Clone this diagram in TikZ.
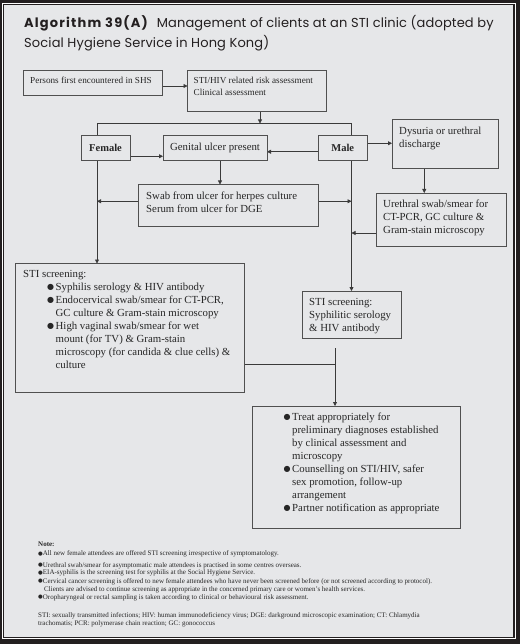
\documentclass[tikz,border=0pt]{standalone}
\usepackage{fontspec}
\setmainfont{Liberation Serif}
\newfontfamily\titlefont{Poppins}[LetterSpace=1]
\newfontfamily\titlefontB{Poppins}[LetterSpace=9]
\newfontfamily\dejavu{DejaVu Sans}
\usetikzlibrary{arrows.meta,calc}
\definecolor{bggray}{HTML}{E6E7E9}
\definecolor{framec}{HTML}{231F20}
\definecolor{linec}{HTML}{3A3A3A}
\definecolor{boxc}{HTML}{505050}
\definecolor{txtc}{HTML}{262626}
\pgfdeclarelayer{frame}
\pgfdeclarelayer{bg}
\pgfsetlayers{frame,bg,main}
\newcommand\blt{{\dejavu\fontsize{8}{8}\selectfont\raisebox{0.9pt}{●}}}
\newcommand\nblt{{\dejavu\fontsize{5.4}{5.4}\selectfont\raisebox{0.4pt}{●}}}
\newcommand\bitem{\makebox[8.5pt][l]{\blt}}
\newcommand\bcont{\hspace*{8.5pt}}
\newcommand\tst{\rule{0pt}{8pt}}
\newcommand\mkbox[7][]{\node[box,minimum width={#5-#3},minimum height={#6-#4},#1] (#2) at (#3,#4) {#7};}
\tikzset{
  box/.style={draw=boxc, line width=0.9pt, fill=bggray, rectangle, inner sep=0pt, outer sep=0pt, anchor=north west, text=txtc, font=\fontsize{10.8}{13}\selectfont},
  txt/.style={inner sep=0pt, anchor=north west, align=left, text=txtc, font=\fontsize{10.8}{13}\selectfont},
  smalltxt/.style={txt, font=\fontsize{9.2}{12}\selectfont},
  notetxt/.style={inner sep=0pt, anchor=north west, align=left, text=txtc, font=\fontsize{7}{8.2}\selectfont},
  ttl/.style={inner sep=0pt, anchor=base west, text=framec, font=\titlefont\fontsize{13}{20}\selectfont},
  conn/.style={draw=linec, line width=0.8pt},
  arr/.style={conn, -{Triangle[length=4pt,width=4pt]}},
}
\begin{document}
\begin{tikzpicture}[x=1pt,y=-1pt]
\useasboundingbox (0,0) rectangle (520,644);
\begin{pgfonlayer}{frame}
  \fill[framec] (0,0) rectangle (520,644);
  \fill[white] (2,3.3) rectangle (515.5,639.3);
  \fill[framec] (3,4.3) rectangle (514.5,638.3);
  \fill[bggray] (4,5.3) rectangle (513.3,637.3);
\end{pgfonlayer}

% title
\node[ttl] (title1) at (24,28) {{\titlefontB\bfseries Algorithm 39(A)}\hspace{0.7em}Management of clients at an STI clinic (adopted by};
\node[ttl] (title2) at (24,48) {Social Hygiene Service in Hong Kong)};

% boxes
\mkbox{persons}{23}{70}{162.5}{95}{}
\mkbox{stihiv}{187.5}{70}{326.5}{111}{}
\mkbox[font=\bfseries\fontsize{10.5}{13}\selectfont]{female}{81}{135.5}{130}{160}{Female}
\mkbox{ulcer}{163}{135.5}{267}{160}{Genital ulcer present}
\mkbox[font=\bfseries\fontsize{10.5}{13}\selectfont]{male}{318.5}{135.5}{367}{160}{Male}
\mkbox{dys}{392}{119.5}{498.5}{168}{}
\mkbox{swab}{138.5}{184.5}{318.5}{226}{}
\mkbox{ureth}{376}{193}{506}{246}{}
\mkbox{stiL}{15}{263.5}{244.5}{392.5}{}
\mkbox{stiR}{302}{291}{401}{338}{}
\mkbox{treat}{252.5}{406}{460}{528}{}

% texts in boxes
\node[smalltxt] (persons-t) at (30,75) {\tst Persons first encountered in SHS};
\node[smalltxt] (stihiv-t) at (193.5,75) {\tst STI/HIV related risk assessment\\Clinical assessment};
\node[txt] (dys-t) at (399,126) {\tst Dysuria or urethral\\discharge};
\node[txt] (swab-t) at (146,191) {\tst Swab from ulcer for herpes culture\\Serum from ulcer for DGE};
\node[txt] (ureth-t) at (383,199) {\tst Urethral swab/smear for\\CT-PCR, GC culture \&\\Gram-stain microscopy};
\node[txt] (stiL-t) at (23,269) {\tst STI screening:\\
  \hspace*{24pt}\bitem Syphilis serology \& HIV antibody\\
  \hspace*{24pt}\bitem Endocervical swab/smear for CT-PCR,\\
  \hspace*{24pt}\bcont GC culture \& Gram-stain microscopy\\
  \hspace*{24pt}\bitem High vaginal swab/smear for wet\\
  \hspace*{24pt}\bcont mount (for TV) \& Gram-stain\\
  \hspace*{24pt}\bcont microscopy (for candida \& clue cells) \&\\
  \hspace*{24pt}\bcont culture};
\node[txt] (stiR-t) at (309,297) {\tst STI screening:\\Syphilitic serology\\\& HIV antibody};
\node[txt] (treat-t) at (283.5,412) {\tst\bitem Treat appropriately for\\
  \bcont preliminary diagnoses established\\
  \bcont by clinical assessment and\\
  \bcont microscopy\\
  \bitem Counselling on STI/HIV, safer\\
  \bcont sex promotion, follow-up\\
  \bcont arrangement\\
  \bitem Partner notification as appropriate};

% notes
\node[notetxt] (notes) at (38,541) {\rule{0pt}{5pt}\textbf{Note:}\\[1.3pt]
  \nblt All new female attendees are offered STI screening irrespective of symptomatology.\\[3.3pt]
  \nblt Urethral swab/smear for asymptomatic male attendees is practised in some centres overseas.\\[-0.7pt]
  \nblt EIA-syphilis is the screening test for syphilis at the Social Hygiene Service.\\[0.3pt]
  \nblt Cervical cancer screening is offered to new female attendees who have never been screened before (or not screened according to protocol).\\[0.3pt]
  \hspace*{6pt}Clients are advised to continue screening as appropriate in the concerned primary care or women's health services.\\[-0.7pt]
  \nblt Oropharyngeal or rectal sampling is taken according to clinical or behavioural risk assessment.};
\node[notetxt] (abbr) at (38,612) {\rule{0pt}{5pt}STI: sexually transmitted infections; HIV: human immunodeficiency virus; DGE: darkground microscopic examination; CT: Chlamydia\\
  trachomatis; PCR: polymerase chain reaction; GC: gonococcus};

% connectors
\begin{pgfonlayer}{bg}
  \coordinate (jl) at (97,123.5);
  \coordinate (jr) at (351.5,123.5);
  \coordinate (a1) at ($(persons.east)+(0,3.5)$);
  \draw[arr] (a1) -- (a1 -| stihiv.west);
  \coordinate (a2) at ($(stihiv.south)+(3,0)$);
  \draw[arr] (a2) -- (a2 |- jl);
  \draw[conn] (jl) -- (jr);
  \draw[arr] (jl) -- (jl |- stiL.north);
  \draw[arr] (jr) -- (jr |- stiR.north);
  \coordinate (a3) at ($(female.east)+(0,8.5)$);
  \draw[arr] (a3) -- (a3 -| ulcer.west);
  \coordinate (a4) at ($(male.west)+(0,4)$);
  \draw[arr] (a4) -- (a4 -| ulcer.east);
  \coordinate (a5) at ($(male.east)+(0,-4.5)$);
  \draw[arr] (a5) -- (a5 -| dys.west);
  \coordinate (a6) at ($(ulcer.south)+(5,0)$);
  \draw[arr] (a6) -- (a6 |- swab.north);
  \coordinate (a7) at ($(swab.west)+(0,-4)$);
  \draw[arr] (a7) -- (a7 -| jl);
  \coordinate (a8) at ($(swab.east)+(0,-4)$);
  \draw[arr] (a8) -- (a8 -| jr);
  \coordinate (a9) at ($(dys.south)+(-21,0)$);
  \draw[arr] (a9) -- (a9 |- ureth.north);
  \coordinate (a10) at ($(ureth.west)+(0,13.5)$);
  \draw[arr] (a10) -- (a10 -| jr);
  \coordinate (mj) at (335,364);
  \coordinate (ms) at (335,348);
  \draw[conn] (stiL.east |- mj) -- (mj);
  \draw[arr] (ms) -- (ms |- treat.north);
\end{pgfonlayer}
\end{tikzpicture}
\end{document}
